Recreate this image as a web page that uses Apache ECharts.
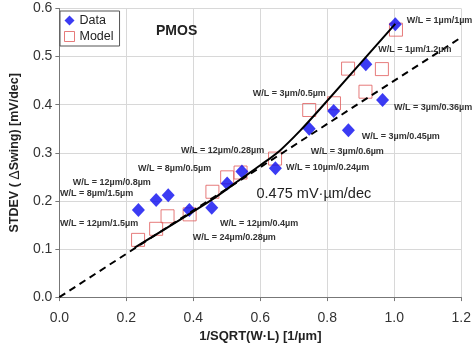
<!DOCTYPE html>
<html><head><meta charset="utf-8">
<script src="https://cdn.jsdelivr.net/npm/echarts@6/dist/echarts.min.js"></script>
<style>html,body{margin:0;padding:0;background:#fff}#c{width:474px;height:348px}</style>
</head><body><div id="c"></div>
<script>
// Measured data (Data: blue diamonds)
var dataX = [0.236,0.289,0.325,0.388,0.455,0.501,0.545,0.645,0.746,0.819,0.863,0.915,0.965,1.003];
var dataY = [0.181,0.202,0.212,0.181,0.186,0.236,0.261,0.268,0.350,0.387,0.347,0.484,0.410,0.567];
// Model (red open squares)
var modelX = [0.235,0.289,0.323,0.389,0.457,0.501,0.541,0.644,0.746,0.820,0.862,0.914,0.963,1.005];
var modelY = [0.119,0.142,0.168,0.172,0.219,0.249,0.259,0.288,0.389,0.403,0.475,0.427,0.474,0.556];
// Solid fit curve
var fitX = [0.225,0.45,0.541,0.600,0.659,0.719,0.778,1.003];
var fitY = [0.103,0.200,0.245,0.274,0.305,0.346,0.391,0.568];
// Dashed linear line (0.475 mV·µm/dec)
var dashX = [0, 1.2];
var dashY = [0, 0.54];
var xTicks = [0.0,0.2,0.4,0.6,0.8,1.0,1.2];
var yTicks = [0.0,0.1,0.2,0.3,0.4,0.5,0.6];
var wlLabels = ['W/L = 1µm/1µm','W/L = 1µm/1.2µm','W/L = 3µm/0.5µm','W/L = 3µm/0.36µm','W/L = 3µm/0.45µm',
  'W/L = 3µm/0.6µm','W/L = 12µm/0.28µm','W/L = 10µm/0.24µm','W/L = 8µm/0.5µm','W/L = 12µm/0.8µm',
  'W/L = 8µm/1.5µm','W/L = 12µm/1.5µm','W/L = 12µm/0.4µm','W/L = 24µm/0.28µm'];
var slopeLabel = '0.475 mV·µm/dec';
var panelLabel = 'PMOS';

function pairs(xs, ys){ return xs.map(function(x,i){ return [x, ys[i]]; }); }

// label layout (pixel positions: left x, middle y)
var wlPos = [[406.7,20.7],[378.3,50],[252.7,93.3],[394,107.3],[361.7,136.7],
  [310.7,151.7],[181,151],[286,167.7],[138,168.3],[72.7,182.3],
  [60,193.7],[60,224],[220,223.3],[192.7,237.7]];

var graphics = wlLabels.map(function(t,i){
  return {type:'text', x: wlPos[i][0], y: wlPos[i][1], z: 100,
    style:{text:t, font:'bold 9px "Liberation Sans", Arial, sans-serif', fill:'#333', verticalAlign:'middle', align:'left'}};
});
graphics.push({type:'text', x:256.5, y:194.3, z:100,
  style:{text:slopeLabel, font:'14.5px "Liberation Sans", Arial, sans-serif', fill:'#222', verticalAlign:'middle', align:'left'}});
graphics.push({type:'text', x:156, y:31, z:100,
  style:{text:panelLabel, font:'bold 14px "Liberation Sans", Arial, sans-serif', fill:'#222', verticalAlign:'middle', align:'left'}});

var chart = echarts.init(document.getElementById('c'), null, {renderer:'canvas'});
chart.setOption({
  animation:false,
  backgroundColor:'#fff',
  textStyle:{fontFamily:'"Liberation Sans", Arial, sans-serif'},
  grid:{left:57.5, right:12, top:8.5, bottom:48.5, containLabel:false},
  legend:{
    left:60, top:11, orient:'vertical', padding:[3,6,3,4], itemGap:3,
    itemWidth:10, itemHeight:10, borderColor:'#555', borderWidth:1, backgroundColor:'#fff',
    textStyle:{fontSize:12.5, color:'#222'},
    data:[
      {name:'Data', icon:'diamond', itemStyle:{color:'#0a0af0', borderWidth:0}},
      {name:'Model', icon:'rect', itemStyle:{color:'#fff', borderColor:'#e05a5a', borderWidth:1}}
    ]
  },
  xAxis:{
    type:'value', min:0, max:1.2, interval:0.2,
    name:'1/SQRT(W·L) [1/µm]', nameLocation:'middle', nameGap:26,
    nameTextStyle:{fontWeight:'bold', fontSize:13, color:'#222'},
    axisLine:{show:true, onZero:false, lineStyle:{color:'#777', width:1}},
    axisTick:{show:true, inside:false, length:4, lineStyle:{color:'#777'}},
    axisLabel:{fontSize:14, color:'#333', margin:14, formatter:function(v){return v.toFixed(1);}},
    splitLine:{show:true, lineStyle:{color:'#d8d8d8', width:1}}
  },
  yAxis:{
    type:'value', min:0, max:0.6, interval:0.1,
    name:'STDEV ( {d|Δ}Swing) [mV/dec]', nameLocation:'middle', nameGap:28,
    nameTextStyle:{fontWeight:'bold', fontSize:12.5, color:'#222',
      rich:{d:{fontWeight:'normal', fontSize:14, color:'#222'}}},
    axisLine:{show:true, lineStyle:{color:'#777', width:1}},
    axisTick:{show:true, inside:false, length:4, lineStyle:{color:'#777'}},
    axisLabel:{fontSize:14, color:'#333', margin:7, formatter:function(v){return v.toFixed(1);}},
    splitLine:{show:true, lineStyle:{color:'#d8d8d8', width:1}}
  },
  series:[
    {name:'Model', type:'scatter', symbol:'rect', symbolSize:13, z:2,
      itemStyle:{color:'rgba(255,255,255,0)', borderColor:'#e05a5a', borderWidth:1},
      data:pairs(modelX, modelY)},
    {name:'Data', type:'scatter', symbol:'diamond', symbolSize:[13,14], z:3,
      itemStyle:{color:'#0a0af0'},
      data:pairs(dataX, dataY)},
    {name:'fit', type:'line', smooth:0.3, showSymbol:false, symbol:'none', z:5,
      lineStyle:{color:'#000', width:2}, data:pairs(fitX, fitY)},
    {name:'linear', type:'line', showSymbol:false, symbol:'none', z:5,
      lineStyle:{color:'#000', width:2, type:[7,5]}, data:pairs(dashX, dashY)}
  ],
  graphic:graphics
});
</script></body></html>
